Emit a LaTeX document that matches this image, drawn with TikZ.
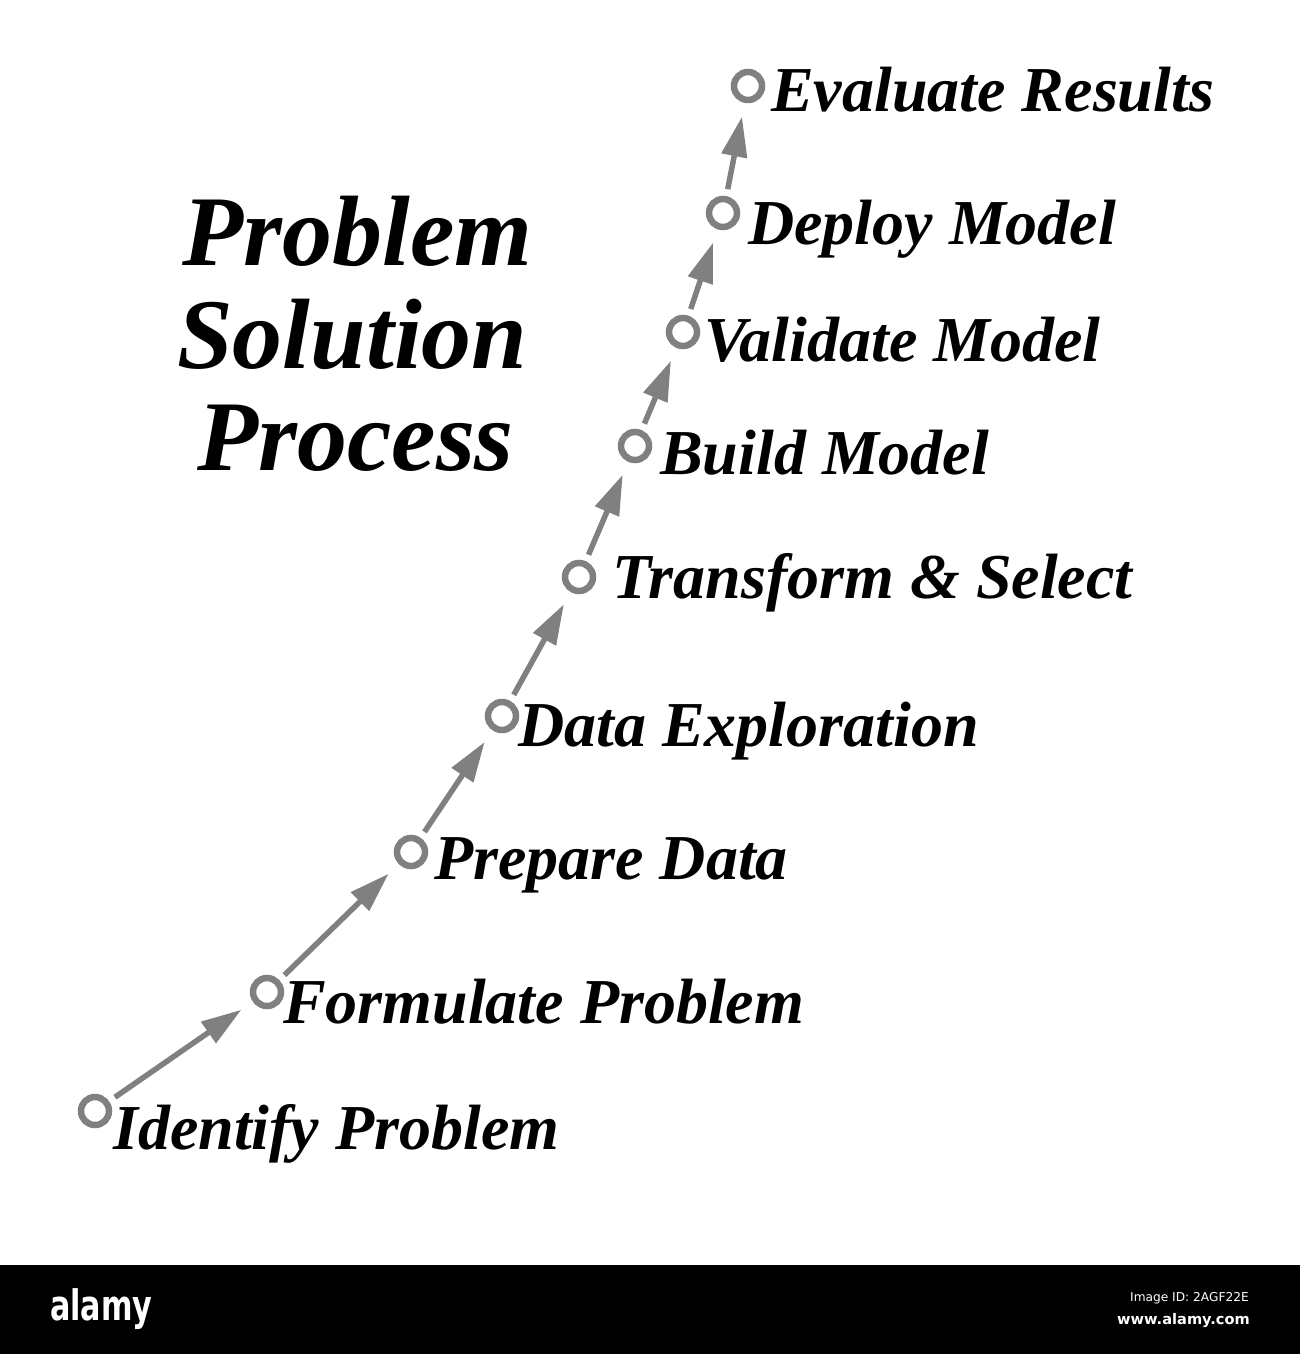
\documentclass[tikz,border=0pt]{standalone}
\usepackage{fontspec}
\setmainfont{Liberation Serif}
\newfontfamily\barfont{DejaVu Sans}
\newfontfamily\barcondfont{DejaVu Sans Condensed}
\usetikzlibrary{arrows.meta}
\definecolor{stepgray}{RGB}{128,128,128}
\begin{document}
\begin{tikzpicture}[x=1pt,y=-1pt,
  dot/.style={circle,draw=stepgray,line width=6.5pt,minimum size=28pt,inner sep=0pt},
  lbl/.style={anchor=base west,font=\fontsize{64}{70}\selectfont\bfseries\itshape,inner sep=0pt},
  ttl/.style={anchor=base west,font=\fontsize{100}{102}\selectfont\bfseries\itshape,inner sep=0pt},
  arr/.style={draw=stepgray,line width=5.5pt,-{Triangle[length=40pt,width=25pt]},shorten <=7pt,shorten >=14pt}]
\useasboundingbox (0,0) rectangle (1300,1354);
\fill[white] (0,0) rectangle (1300,1265);
\fill[black] (0,1265) rectangle (1300,1354);

% title
\node[ttl] (t1) at (182,265) {Problem};
\node[ttl] (t2) at (177,368) {Solution};
\node[ttl] (t3) at (197,470) {Process};

% circles
\node[dot] (c1) at (95,1111) {};
\node[dot] (c2) at (267,992) {};
\node[dot] (c3) at (411,852) {};
\node[dot] (c4) at (502,716) {};
\node[dot] (c5) at (579,577) {};
\node[dot] (c6) at (635,446) {};
\node[dot] (c7) at (683,332) {};
\node[dot] (c8) at (723,213) {};
\node[dot] (c9) at (748,86) {};

% labels
\node[lbl] (l1) at (113,1149) {Identify Problem};
\node[lbl] (l2) at (283,1023) {Formulate Problem};
\node[lbl] (l3) at (434,879) {Prepare Data};
\node[lbl] (l4) at (518,746) {Data Exploration};
\node[lbl] (l5) at (612,598) {Transform \& Select};
\node[lbl] (l6) at (660,474) {Build Model};
\node[lbl] (l7) at (704,361) {Validate Model};
\node[lbl] (l8) at (748,244) {Deploy Model};
\node[lbl] (l9) at (771,111) {Evaluate Results};

% arrows
\draw[arr] (c1) -- (c2);
\draw[arr] (c2) -- (c3);
\draw[arr] (c3) -- (c4);
\draw[arr] (c4) -- (c5);
\draw[arr] (c5) -- (c6);
\draw[arr] (c6) -- (c7);
\draw[arr] (c7) -- (c8);
\draw[arr] (c8) -- (c9);

% bottom bar
\node[anchor=base west,text=white,inner sep=0pt,font=\barcondfont\bfseries\fontsize{42}{42}\selectfont] (brand) at (50,1320) {\scalebox{0.8}[1]{alamy}};
\node[anchor=base east,text=white,inner sep=0pt,font=\barfont\fontsize{12.2}{14}\selectfont] (imgid) at (1249,1301) {Image ID: 2AGF22E};
\node[anchor=base east,text=white,inner sep=0pt,font=\barfont\bfseries\fontsize{14.6}{16}\selectfont] (site) at (1250,1324) {www.alamy.com};
\end{tikzpicture}
\end{document}
